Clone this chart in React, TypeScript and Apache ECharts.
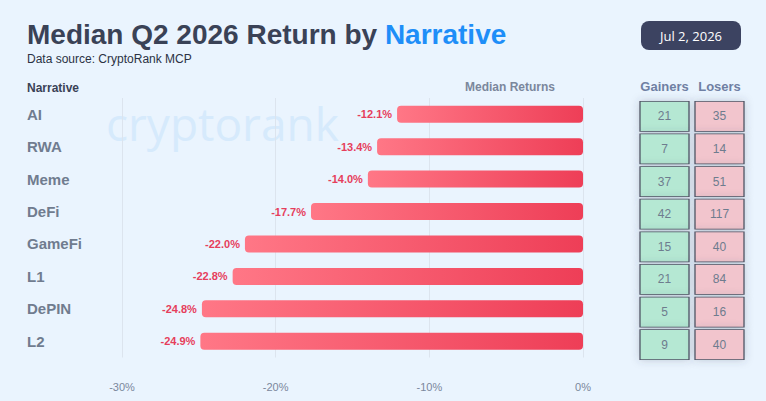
import React, { useEffect, useRef } from "react";
import * as echarts from "echarts";

const categories = ["AI", "RWA", "Meme", "DeFi", "GameFi", "L1", "DePIN", "L2"];
const medianReturns = [-12.1, -13.4, -14.0, -17.7, -22.0, -22.8, -24.8, -24.9];
const gainers = [21, 7, 37, 42, 15, 21, 5, 9];
const losers = [35, 14, 51, 117, 40, 84, 16, 40];
const countColumns = ["Gainers", "Losers"];
const xTicks = [-30, -20, -10, 0];

export default function App() {
  const ref = useRef<HTMLDivElement>(null);
  useEffect(() => {
    if (!ref.current) return;
    const chart = echarts.init(ref.current, null, { renderer: "svg" });
    const cellData: any[] = [];
    categories.forEach((_, i) => {
      cellData.push({ value: [0, i, gainers[i]], itemStyle: { color: "#B5E8D3" } });
      cellData.push({ value: [1, i, losers[i]], itemStyle: { color: "#F2C5CD" } });
    });
    const option: any = {
      animation: false,
      backgroundColor: "#EAF4FE",
      textStyle: { fontFamily: "Liberation Sans, Arial, sans-serif" },
      title: {
        left: 22,
        top: 15,
        text: "{a|Median Q2 2026 Return by }{b|Narrative}",
        textStyle: {
          rich: {
            a: { fontSize: 28, fontWeight: "bold", color: "#3A4256", fontFamily: "Liberation Sans, Arial, sans-serif" },
            b: { fontSize: 28, fontWeight: "bold", color: "#1E8EF8", fontFamily: "Liberation Sans, Arial, sans-serif" },
          },
        },
      },
      graphic: [
        {
          type: "text",
          left: 27,
          top: 53,
          style: { text: "Data source: CryptoRank MCP", fontSize: 12, fill: "#2B3244", fontFamily: "Liberation Sans, Arial, sans-serif" },
        },
        {
          type: "text",
          left: 27,
          top: 82,
          style: { text: "Narrative", fontSize: 12, fontWeight: "bold", fill: "#3A4256", fontFamily: "Liberation Sans, Arial, sans-serif" },
        },
        {
          type: "text",
          left: 465,
          top: 81,
          style: { text: "Median Returns", fontSize: 12, fontWeight: "bold", fill: "#7B879C", fontFamily: "Liberation Sans, Arial, sans-serif" },
        },
        {
          type: "text",
          left: 106,
          top: 100,
          z: 0,
          style: { text: "cryptorank", fontSize: 46, fontWeight: 400, fill: "#D6EAFC", fontFamily: "Open Sans, sans-serif" },
        },
        {
          type: "group",
          left: 641,
          top: 21,
          children: [
            { type: "rect", shape: { x: 0, y: 0, width: 100, height: 29, r: 8 }, style: { fill: "#3C4361" } },
            {
              type: "text",
              style: { text: "Jul 2, 2026", x: 50, y: 14.5, align: "center", verticalAlign: "middle", fontSize: 13, fill: "#FFFFFF", fontFamily: "Open Sans, sans-serif" },
            },
          ],
        },
      ],
      grid: [
        { left: 122, right: 183, top: 98, height: 259.5 },
        { left: 637, width: 110, top: 100, height: 261 },
      ],
      xAxis: [
        {
          gridIndex: 0,
          type: "value",
          min: -30,
          max: 0,
          interval: 10,
          axisLine: { show: false },
          axisTick: { show: false },
          splitLine: { show: true, lineStyle: { color: "#DCE4EE", width: 1 } },
          axisLabel: { margin: 24, fontSize: 11, color: "#7B879C", formatter: (v: number) => (xTicks.includes(v) ? v + "%" : "") },
        },
        {
          gridIndex: 1,
          type: "category",
          position: "top",
          data: countColumns,
          axisLine: { show: false },
          axisTick: { show: false },
          axisLabel: { interval: 0, margin: 7, fontSize: 13, fontWeight: "bold", color: "#6F7FA3" },
        },
      ],
      yAxis: [
        {
          gridIndex: 0,
          type: "category",
          inverse: true,
          data: categories,
          axisLine: { show: false },
          axisTick: { show: false },
          axisLabel: { align: "left", margin: 95, fontSize: 15, fontWeight: "bold", color: "#707C8F" },
        },
        {
          gridIndex: 1,
          type: "category",
          inverse: true,
          data: categories,
          show: false,
        },
      ],
      series: [
        {
          type: "bar",
          xAxisIndex: 0,
          yAxisIndex: 0,
          data: medianReturns,
          barWidth: 17,
          z: 3,
          itemStyle: {
            borderRadius: 4,
            color: new echarts.graphic.LinearGradient(0, 0, 1, 0, [
              { offset: 0, color: "#FF7786" },
              { offset: 1, color: "#EE3E57" },
            ]),
          },
          label: {
            show: true,
            position: "left",
            distance: 5,
            fontSize: 11,
            fontWeight: "bold",
            color: "#E63E5C",
            formatter: (p: any) => p.value.toFixed(1) + "%",
          },
        },
        {
          type: "scatter",
          xAxisIndex: 1,
          yAxisIndex: 1,
          data: cellData,
          symbol: "rect",
          symbolSize: [49, 30],
          itemStyle: {
            borderColor: "#4E5363",
            borderWidth: 1,
            shadowBlur: 8,
            shadowColor: "rgba(60,70,90,0.25)",
            opacity: 1,
          },
          label: {
            show: true,
            position: "inside",
            fontSize: 12,
            color: "#6E7C8E",
            formatter: (p: any) => String(p.value[2]),
          },
        },
      ],
    };
    chart.setOption(option);
    return () => chart.dispose();
  }, []);
  return <div ref={ref} style={{ position: "absolute", left: 0, top: 0, width: 766, height: 401 }} />;
}
